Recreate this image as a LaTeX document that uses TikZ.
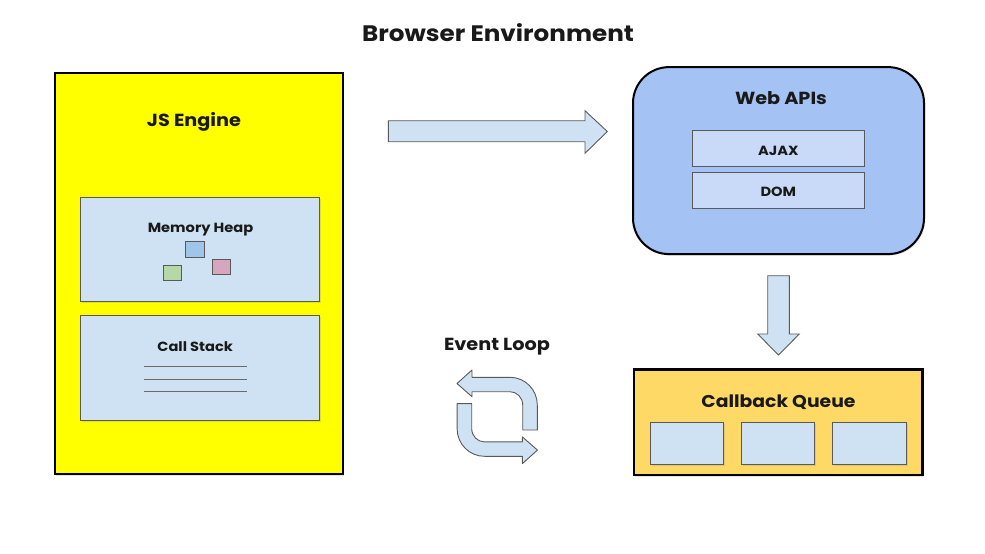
\documentclass[tikz,border=0pt]{standalone}
\usepackage{fontspec}
\setmainfont{Poppins}[FakeStretch=1.1]
\usetikzlibrary{shadows}
\definecolor{paleblue}{HTML}{CFE2F3}
\definecolor{apiblue}{HTML}{A4C2F4}
\definecolor{itemblue}{HTML}{C9DAF8}
\definecolor{queueyellow}{HTML}{FFD966}
\definecolor{engineyellow}{HTML}{FFFF00}
\definecolor{edgegray}{HTML}{595959}
\definecolor{sqblue}{HTML}{9FC5E8}
\definecolor{sqgreen}{HTML}{B6D7A8}
\definecolor{sqpink}{HTML}{D5A6BD}
\tikzset{
  shade/.style={drop shadow={opacity=0.22,shadow xshift=1.2pt,shadow yshift=-1.5pt}},
  bigbox/.style={draw=black,line width=2.4pt,shade,inner sep=0pt},
  inbox/.style={draw=edgegray,line width=1pt,fill=paleblue,shade,inner sep=0pt},
  apibox/.style={draw=edgegray,line width=1pt,fill=itemblue,inner sep=0pt},
  sq/.style={draw=edgegray,line width=1pt,inner sep=0pt},
  blockarrow/.style={draw=edgegray,line width=0.9pt,fill=paleblue,line join=miter},
  lbl/.style={font=\bfseries\fontsize{#1}{#1}\selectfont,inner sep=0pt,text=black!90,anchor=base}
}
\begin{document}
\begin{tikzpicture}[x=1pt,y=-1pt]
\path[use as bounding box,fill=white] (0,0) rectangle (985,554);

% title
\node[lbl=22.4] (title) at (498,41) {Browser Environment};

% JS engine
\node[bigbox,fill=engineyellow,minimum width=288pt,minimum height=401pt] (engine) at (199,273.5) {};
\node[lbl=17.5] (enginelbl) at (194,126) {JS Engine};
\node[inbox,minimum width=239pt,minimum height=104pt] (heap) at (200,249.5) {};
\node[lbl=13.3] (heaplbl) at (200.5,232.7) {Memory Heap};
\node[sq,fill=sqblue,minimum width=19pt,minimum height=15.3pt] (sqa) at (194.8,249.4) {};
\node[sq,fill=sqgreen,minimum width=18.4pt,minimum height=15pt] (sqb) at (172.5,272.5) {};
\node[sq,fill=sqpink,minimum width=18.4pt,minimum height=14.6pt] (sqc) at (221.5,267) {};
\node[inbox,minimum width=239pt,minimum height=105pt] (stack) at (200,367.5) {};
\node[lbl=13.3] (stacklbl) at (195.2,351.7) {Call Stack};
\coordinate (l1a) at (143.7,366.7); \coordinate (l1b) at (247.3,366.7);
\coordinate (l2a) at (143.7,379.5); \coordinate (l2b) at (247.3,379.5);
\coordinate (l3a) at (143.7,391.5); \coordinate (l3b) at (247.3,391.5);
\draw[edgegray!90,line width=1.2pt] (l1a) -- (l1b) (l2a) -- (l2b) (l3a) -- (l3b);

% right block arrow
\draw[blockarrow] (388.3,120.7) -- (585,120.7) -- (585,110.7) -- (607.3,131.5)
  -- (585,153.3) -- (585,141.7) -- (388.3,141.7) -- cycle;

% Web APIs
\node[bigbox,line width=2pt,fill=apiblue,rounded corners=36pt,minimum width=291pt,minimum height=187pt] (web) at (778.5,160.6) {};
\node[lbl=17.5] (weblbl) at (781,104.3) {Web APIs};
\node[apibox,minimum width=172pt,minimum height=36.3pt] (ajax) at (778.3,148.8) {};
\node[lbl=13.3] (ajaxlbl) at (778.3,155) {AJAX};
\node[apibox,minimum width=172pt,minimum height=36.3pt] (dom) at (778.3,190.8) {};
\node[lbl=13.3] (domlbl) at (778.3,196.8) {DOM};

% down block arrow
\draw[blockarrow] (767.7,275.7) -- (789.3,275.7) -- (789.3,334) -- (799.3,334)
  -- (778.5,355) -- (757.7,334) -- (767.7,334) -- cycle;

% Callback queue
\node[bigbox,fill=queueyellow,minimum width=288.7pt,minimum height=105.7pt] (queue) at (778.3,422.2) {};
\node[lbl=17.1] (queuelbl) at (778.5,407.7) {Callback Queue};
\node[inbox,minimum width=72.6pt,minimum height=42pt] (q1) at (687,443.3) {};
\node[inbox,minimum width=73.3pt,minimum height=42pt] (q2) at (778.3,443.3) {};
\node[inbox,minimum width=74.4pt,minimum height=42pt] (q3) at (869.5,443.3) {};

% Event loop
\node[lbl=17.5] (looplbl) at (497,350) {Event Loop};
\newcommand{\looparrow}{%
  (457,383.5) -- (472,370) -- (472,377.3) -- (510,377.3)
  .. controls (525.1,377.3) and (537.3,389.7) .. (537.3,405)
  -- (537.3,430) -- (522.7,430) -- (522.7,405)
  .. controls (522.7,397.7) and (517,391.7) .. (510,391.7)
  -- (472,391.7) -- (472,396.7) -- cycle}
\draw[blockarrow,line join=round] \looparrow;
\draw[blockarrow,line join=round,rotate around={180:(497.2,416.8)}] \looparrow;
\end{tikzpicture}
\end{document}
